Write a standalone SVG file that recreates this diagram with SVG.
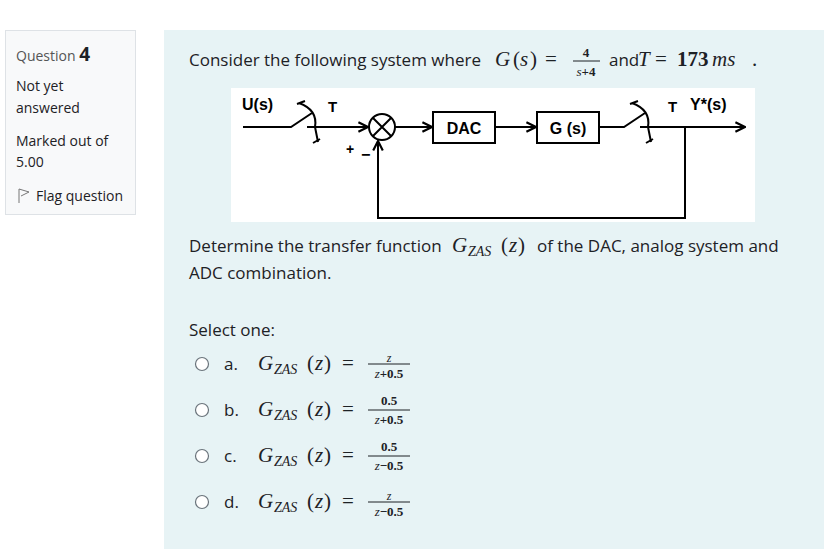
<svg xmlns="http://www.w3.org/2000/svg" width="824" height="549" viewBox="0 0 824 549">
<style>
.t{font-family:"Open Sans","Liberation Sans",sans-serif;fill:#1d2125}
.m{font-family:"Liberation Serif",serif;font-style:italic;fill:#1d2125}
.n{font-family:"Liberation Serif",serif;fill:#1d2125}
.d{font-family:"Liberation Sans",sans-serif;font-weight:bold;fill:#000}
.ln{stroke:#000;stroke-width:2;fill:none}
.rad{fill:#fff;stroke:#6a737b;stroke-width:1.2}
</style>
<defs>
<marker id="ah" viewBox="0 0 10 10" refX="9" refY="5" markerWidth="6" markerHeight="6" orient="auto"><path d="M1,1 L9,5 L1,9" fill="none" stroke="#000" stroke-width="1.8"/></marker>
<g id="gzas"><text class="m" font-size="21" x="0" y="0">G</text><text class="m" font-size="14" x="16" y="4">ZAS</text><text class="n" font-size="21" x="49" y="0">(</text><text class="m" font-size="21" x="57" y="0">z</text><text class="n" font-size="21" x="66" y="0">)</text><text class="n" font-size="21" x="84" y="0">=</text></g>
</defs>
<rect width="824" height="549" fill="#fff"/>
<g id="info">
<rect x="5.5" y="30.5" width="130" height="184" fill="#f8f9fa" stroke="#dee2e6"/>
<text x="16" y="61" class="t" font-size="14" style="fill:#555">Question <tspan font-size="19" font-weight="bold" style="fill:#1d2125">4</tspan></text>
<text x="16" y="91" class="t" font-size="14">Not yet</text>
<text x="16" y="113" class="t" font-size="14">answered</text>
<text x="16" y="146" class="t" font-size="14">Marked out of</text>
<text x="16" y="167" class="t" font-size="14">5.00</text>
<path d="M19,189 V203 M19,189 L29,192 L21,196" stroke="#777" stroke-width="1" fill="none"/>
<text x="36" y="201" class="t" font-size="14">Flag question</text>
</g>
<rect x="164" y="30" width="660" height="519" fill="#e7f3f5"/>
<g id="question">
<text x="189" y="66" class="t" font-size="17">Consider the following system where</text>
<text x="495" y="66" class="m" font-size="21">G</text><text x="513" y="66" class="n" font-size="21">(</text><text x="520" y="66" class="m" font-size="21">s</text><text x="530" y="66" class="n" font-size="21">)</text><text x="545" y="66" class="n" font-size="21">=</text>
<text x="586" y="57" class="n" font-size="13" text-anchor="middle" font-weight="bold">4</text>
<line x1="573" y1="61" x2="600" y2="61" stroke="#1d2125" stroke-width="1"/>
<text x="586" y="76" class="n" font-size="13" text-anchor="middle" font-weight="bold"><tspan class="m" font-weight="normal">s</tspan>+4</text>
<text x="609" y="66" class="t" font-size="17">and</text>
<text x="638" y="66" class="m" font-size="21">T</text><text x="655" y="66" class="n" font-size="21">=</text><text x="677" y="66" class="n" font-size="21" font-weight="bold">173</text><text x="712" y="66" class="m" font-size="21">ms</text><text x="752" y="66" class="n" font-size="21">.</text>
</g>
<rect x="231" y="88" width="524" height="134" fill="#fff"/>
<g id="diagram-labels">
<text x="242" y="110" class="d" font-size="16">U(s)</text>
<text x="328" y="112" class="d" font-size="15">T</text>
<text x="668" y="112" class="d" font-size="15">T</text>
<text x="690" y="110" class="d" font-size="16">Y*(s)</text>
<text x="346" y="154" class="d" font-size="14">+</text>
<text x="361" y="160" class="d" font-size="16">−</text>
</g>
<g id="sum"><circle cx="382" cy="127" r="13" fill="#fff" stroke="#000" stroke-width="2"/><path d="M373,118 L391,136 M391,118 L373,136" stroke="#000" stroke-width="2"/></g>
<g id="dac"><rect x="433" y="112" width="62" height="31" fill="#fff" stroke="#000" stroke-width="2"/><text x="464" y="134" class="d" font-size="16" text-anchor="middle">DAC</text></g>
<g id="gs"><rect x="537" y="112" width="62" height="31" fill="#fff" stroke="#000" stroke-width="2"/><text x="568" y="134" class="d" font-size="16" text-anchor="middle">G (s)</text></g>
<g id="connectors">
<path class="ln" d="M243,127 H291 L312,113"/>
<path class="ln" d="M307,127 H368" marker-end="url(#ah)"/>
<path class="ln" d="M299,103 Q318,110 315,127 L318,142"/>
<path class="ln" d="M297,104 L305,101 M313,143 L320,139"/>
<path class="ln" d="M395,127 H432" marker-end="url(#ah)"/>
<path class="ln" d="M495,127 H536" marker-end="url(#ah)"/>
<path class="ln" d="M599,127 H624 L645,113"/>
<path class="ln" d="M640,127 H745" marker-end="url(#ah)"/>
<path class="ln" d="M632,103 Q651,110 648,127 L651,142"/>
<path class="ln" d="M630,104 L638,101 M646,143 L653,139"/>
<path class="ln" d="M685,127 V218 H378 V141" marker-end="url(#ah)"/>
</g>
<g id="prompt">
<text x="189" y="252" class="t" font-size="17">Determine the transfer function</text>
<g transform="translate(452,252)"><text class="m" font-size="21" x="0" y="0">G</text><text class="m" font-size="14" x="16" y="4">ZAS</text><text class="n" font-size="21" x="49" y="0">(</text><text class="m" font-size="21" x="57" y="0">z</text><text class="n" font-size="21" x="66" y="0">)</text></g>
<text x="537" y="252" class="t" font-size="17">of the DAC, analog system and</text>
<text x="189" y="279" class="t" font-size="17">ADC combination.</text>
<text x="189" y="336" class="t" font-size="17">Select one:</text>
</g>
<g id="options">
<g id="opt-a"><circle cx="202" cy="364" r="6.5" class="rad"/><text x="224" y="370" class="t" font-size="17">a.</text>
<use href="#gzas" x="258" y="370"/>
<text x="389" y="362" class="m" font-size="12" text-anchor="middle">z</text><line x1="368" y1="364" x2="410" y2="364" stroke="#1d2125"/><text x="389" y="378" class="n" font-size="13" text-anchor="middle" font-weight="bold"><tspan class="m" font-weight="normal">z</tspan>+0.5</text></g>
<g id="opt-b"><circle cx="202" cy="410" r="6.5" class="rad"/><text x="224" y="416" class="t" font-size="17">b.</text>
<use href="#gzas" x="258" y="416"/>
<text x="389" y="405" class="n" font-size="13" text-anchor="middle" font-weight="bold">0.5</text><line x1="368" y1="410" x2="410" y2="410" stroke="#1d2125"/><text x="389" y="424" class="n" font-size="13" text-anchor="middle" font-weight="bold"><tspan class="m" font-weight="normal">z</tspan>+0.5</text></g>
<g id="opt-c"><circle cx="202" cy="456" r="6.5" class="rad"/><text x="224" y="462" class="t" font-size="17">c.</text>
<use href="#gzas" x="258" y="462"/>
<text x="389" y="451" class="n" font-size="13" text-anchor="middle" font-weight="bold">0.5</text><line x1="368" y1="456" x2="410" y2="456" stroke="#1d2125"/><text x="389" y="470" class="n" font-size="13" text-anchor="middle" font-weight="bold"><tspan class="m" font-weight="normal">z</tspan>−0.5</text></g>
<g id="opt-d"><circle cx="202" cy="502" r="6.5" class="rad"/><text x="224" y="508" class="t" font-size="17">d.</text>
<use href="#gzas" x="258" y="508"/>
<text x="389" y="500" class="m" font-size="12" text-anchor="middle">z</text><line x1="368" y1="502" x2="410" y2="502" stroke="#1d2125"/><text x="389" y="516" class="n" font-size="13" text-anchor="middle" font-weight="bold"><tspan class="m" font-weight="normal">z</tspan>−0.5</text></g>
</g>
</svg>
